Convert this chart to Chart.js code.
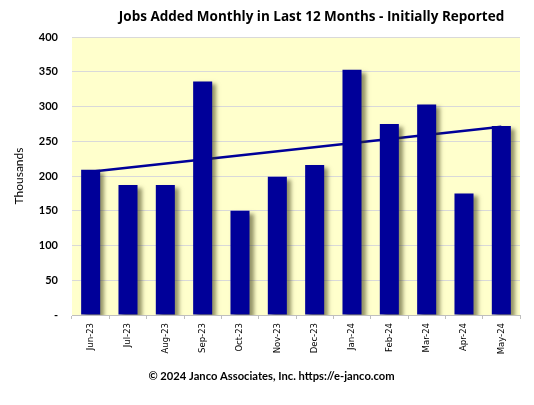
<!DOCTYPE html>
<html>
<head>
<meta charset="utf-8">
<script src="https://cdn.jsdelivr.net/npm/chart.js@4.4.1/dist/chart.umd.min.js"></script>
<style>
  html, body { margin: 0; padding: 0; background: #ffffff; }
  #wrap { width: 534px; height: 405px; position: relative; }
</style>
</head>
<body>
<div id="wrap"><canvas id="c" width="534" height="405"></canvas></div>
<script>
// ---- Data ----
const categories = ['Jun-23','Jul-23','Aug-23','Sep-23','Oct-23','Nov-23','Dec-23','Jan-24','Feb-24','Mar-24','Apr-24','May-24'];
const jobsAdded = [209, 187, 187, 336, 150, 199, 216, 353, 275, 303, 175, 272];
const trendLine = [206, null, null, null, null, null, null, null, null, null, null, 271];
const yTickValues = [0, 50, 100, 150, 200, 250, 300, 350, 400];
const yTickLabels = ['-', '50', '100', '150', '200', '250', '300', '350', '400'];
const chartTitle = 'Jobs Added Monthly in Last 12 Months - Initially Reported';
const footerText = '\u00A9 2024 Janco Associates, Inc. https://e-janco.com';
const yAxisTitle = 'Thousands';

// ---- Plugins ----
const plotBackground = {
  id: 'plotBackground',
  beforeDraw(chart) {
    const { ctx, chartArea: a } = chart;
    ctx.save();
    ctx.fillStyle = '#FFFFCC';
    ctx.fillRect(a.left, a.top, a.right - a.left, a.bottom - a.top);
    ctx.restore();
  }
};

const barShadow = {
  id: 'barShadow',
  beforeDatasetDraw(chart, args) {
    if (args.meta.type !== 'bar') return;
    const ctx = chart.ctx;
    ctx.save();
    ctx.shadowColor = 'rgba(60,60,20,0.55)';
    ctx.shadowBlur = 4;
    ctx.shadowOffsetX = 4;
    ctx.shadowOffsetY = 3;
  },
  afterDatasetDraw(chart, args) {
    if (args.meta.type !== 'bar') return;
    chart.ctx.restore();
  }
};

const texts = {
  id: 'texts',
  afterDraw(chart) {
    const ctx = chart.ctx;
    ctx.save();
    ctx.fillStyle = '#000000';
    ctx.textBaseline = 'alphabetic';
    ctx.textAlign = 'center';
    ctx.font = 'bold 13.5px "Open Sans"';
    ctx.fillText(chartTitle, 311.5, 21);
    ctx.font = 'bold 11.2px Lato';
    ctx.fillText(footerText, 271.5, 379.5);
    ctx.restore();
  }
};

new Chart(document.getElementById('c'), {
  data: {
    labels: categories,
    datasets: [
      {
        type: 'bar',
        label: 'Jobs Added',
        data: jobsAdded,
        backgroundColor: '#000099',
        borderWidth: 0,
        barPercentage: 0.51,
        categoryPercentage: 1.0,
        order: 1
      },
      {
        type: 'line',
        label: 'Trend',
        data: trendLine,
        borderColor: '#000099',
        borderWidth: 2.5,
        pointRadius: 0,
        spanGaps: true,
        fill: false,
        order: 2
      }
    ]
  },
  options: {
    responsive: false,
    animation: false,
    layout: { padding: { top: 37, right: 14, bottom: 0, left: 0 } },
    plugins: {
      legend: { display: false },
      tooltip: { enabled: false },
      title: { display: false }
    },
    scales: {
      x: {
        offset: true,
        grid: {
          offset: true,
          drawOnChartArea: false,
          drawTicks: true,
          tickLength: 4,
          color: '#BFBFBF'
        },
        border: { display: true, color: '#BFBFBF' },
        ticks: {
          minRotation: 90,
          maxRotation: 90,
          autoSkip: false,
          padding: 4,
          color: '#000000',
          font: { family: 'DejaVu Sans', size: 8.5 }
        },
        afterFit(scale) { scale.height = 90; }
      },
      y: {
        min: 0,
        max: 400,
        afterBuildTicks(scale) { scale.ticks = yTickValues.map(v => ({ value: v })); },
        grid: { color: '#D9D9D9', drawTicks: false },
        border: { display: false },
        ticks: {
          padding: 14,
          color: '#000000',
          font: { family: 'Lato', size: 11, weight: 'bold' },
          callback(value) {
            const i = yTickValues.indexOf(value);
            return i >= 0 ? yTickLabels[i] : '';
          }
        },
        title: {
          display: true,
          text: yAxisTitle,
          color: '#000000',
          font: { family: 'Lato', size: 12 },
          padding: { top: 12, bottom: 0 }
        },
        afterFit(scale) { scale.width = 72; }
      }
    }
  },
  plugins: [plotBackground, barShadow, texts]
});
</script>
</body>
</html>
